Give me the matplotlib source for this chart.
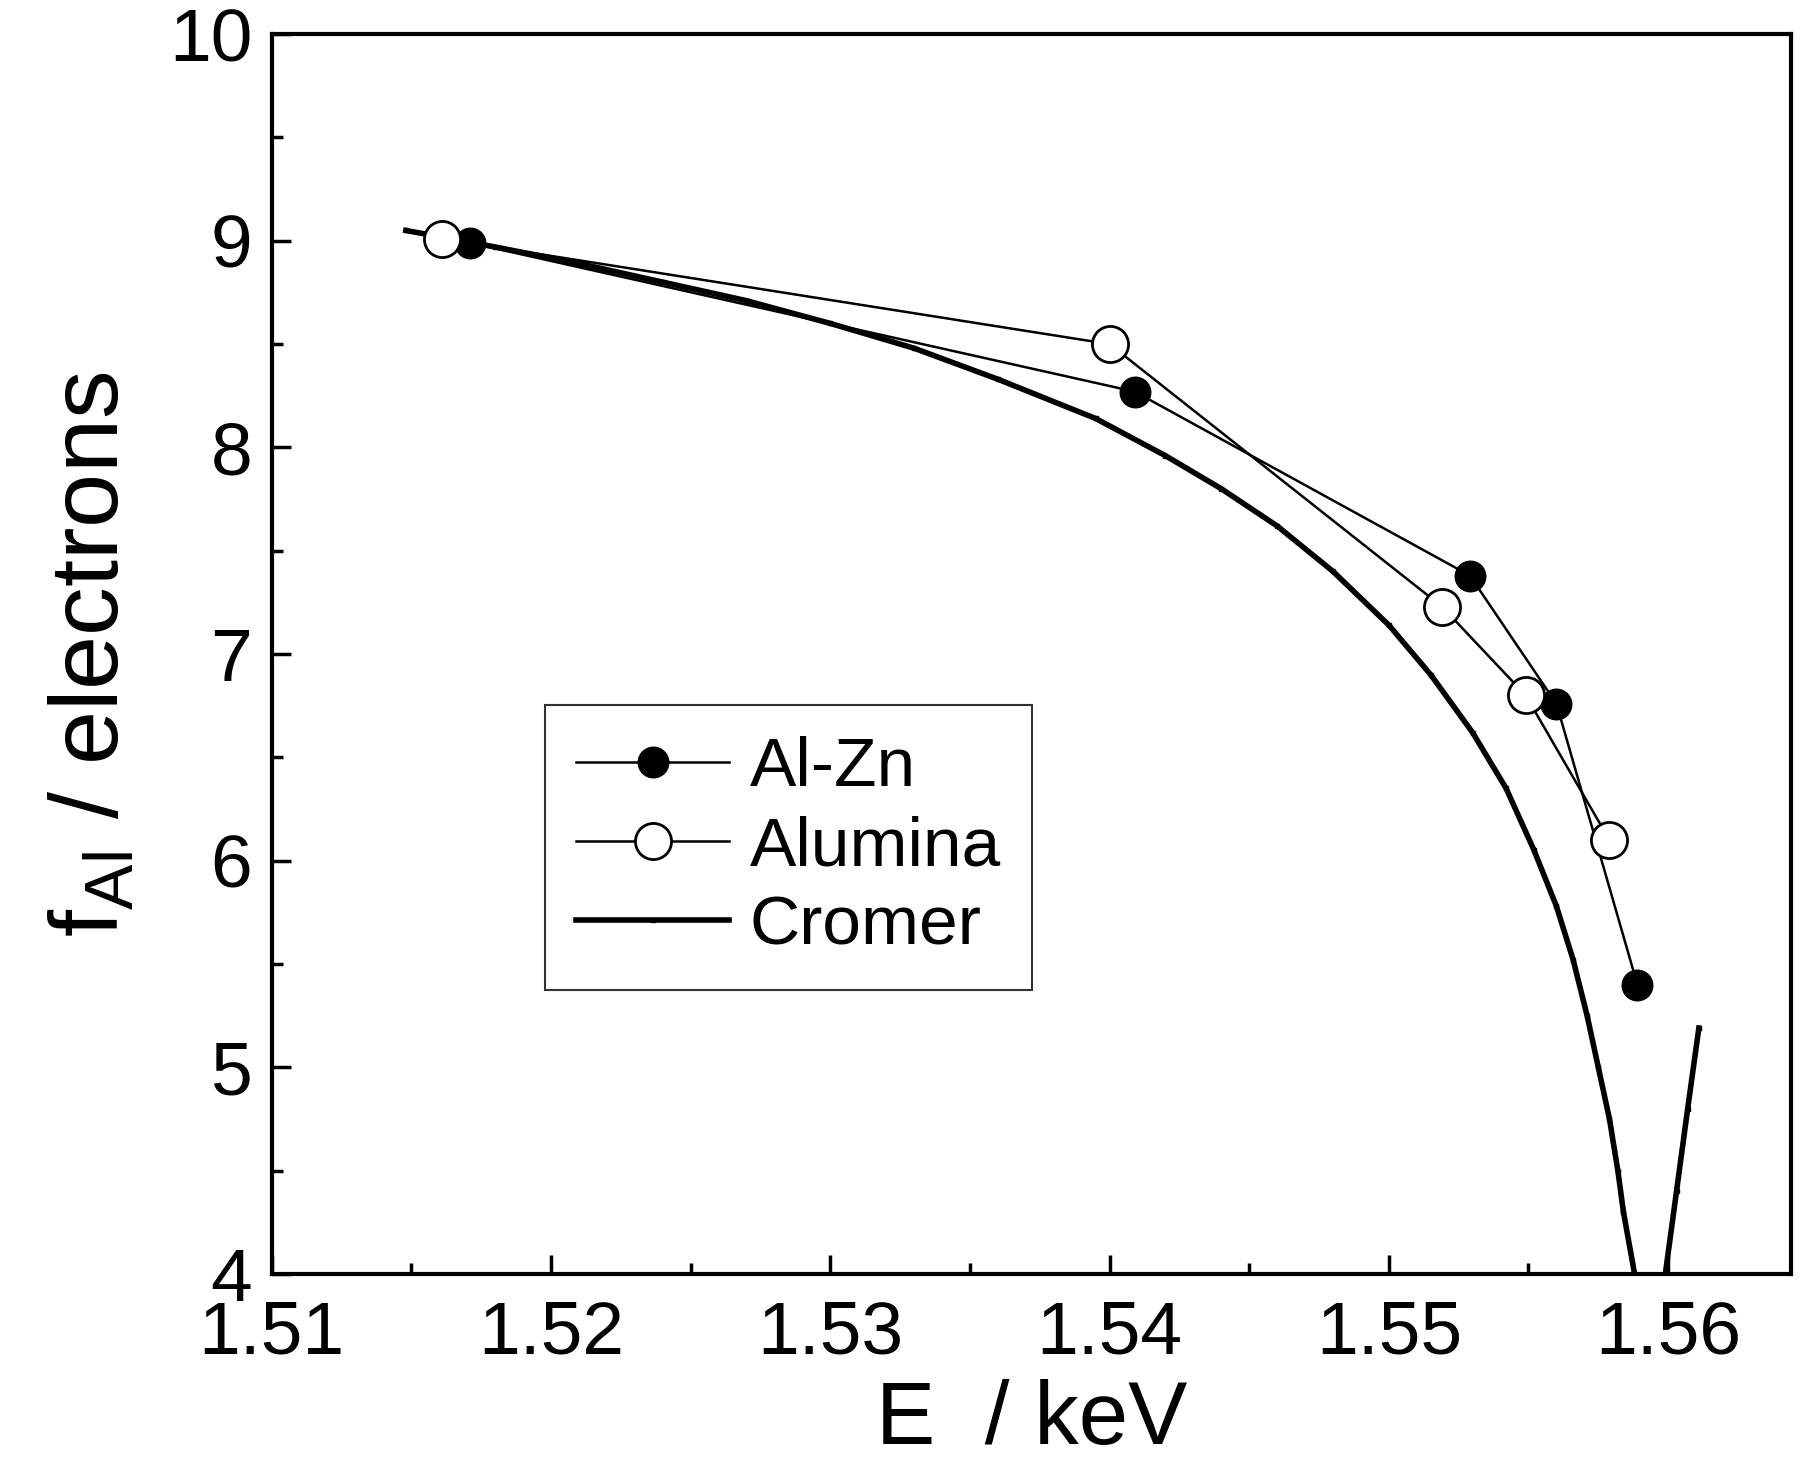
import matplotlib
matplotlib.use("Agg")
import matplotlib.pyplot as plt
from matplotlib.ticker import MultipleLocator

plt.rcParams["font.family"] = "Liberation Sans"

alzn_x = [1.5171, 1.5409, 1.5529, 1.5560, 1.5589]
alzn_y = [8.99, 8.27, 7.38, 6.76, 5.40]
alum_x = [1.5161, 1.5400, 1.5519, 1.5549, 1.5579]
alum_y = [9.01, 8.50, 7.23, 6.80, 6.10]
cromer_x = [1.5148, 1.518, 1.521, 1.524, 1.527, 1.530, 1.533, 1.536, 1.5395, 1.542,
            1.544, 1.546, 1.548, 1.550, 1.5515, 1.5530, 1.5542, 1.5552, 1.5560,
            1.5566, 1.5571, 1.5575, 1.5579, 1.5582, 1.5584, 1.5588]
cromer_y = [9.05, 8.97, 8.89, 8.80, 8.71, 8.60, 8.48, 8.33, 8.14, 7.96,
            7.80, 7.62, 7.40, 7.14, 6.90, 6.62, 6.35, 6.05, 5.78,
            5.52, 5.25, 5.00, 4.75, 4.50, 4.30, 4.00]
cromer2_x = [1.5599, 1.5603, 1.5607, 1.5611]
cromer2_y = [4.00, 4.40, 4.80, 5.19]

fig = plt.figure(figsize=(18, 14.84), dpi=100)
ax = fig.add_axes([0.151, 0.1415, 0.844, 0.8355])

ax.plot(cromer_x, cromer_y, color="black", lw=4, marker="s", ms=2.5, label="Cromer", zorder=2)
ax.plot(cromer2_x, cromer2_y, color="black", lw=4, marker="s", ms=2.5, zorder=2)
ax.plot(alzn_x, alzn_y, color="black", lw=1.8, marker="o", ms=22, mfc="black", label="Al-Zn", zorder=3)
ax.plot(alum_x, alum_y, color="black", lw=1.8, marker="o", ms=26, mfc="white", mew=2, label="Alumina", zorder=4)

ax.set_xlim(1.51, 1.5644)
ax.set_ylim(4, 10)
ax.xaxis.set_minor_locator(MultipleLocator(0.005))
ax.yaxis.set_major_locator(MultipleLocator(1))
ax.yaxis.set_minor_locator(MultipleLocator(0.5))
ax.set_xticks([1.51, 1.52, 1.53, 1.54, 1.55, 1.56])
ax.set_xticklabels(["1.51", "1.52", "1.53", "1.54", "1.55", "1.56"])
ax.tick_params(which="both", direction="in", width=2.5, labelsize=54, top=False, right=False)
ax.tick_params(axis="x", pad=18)
ax.tick_params(axis="y", pad=14)
ax.tick_params(which="major", length=14)
ax.tick_params(which="minor", length=8)
for s in ax.spines.values():
    s.set_linewidth(3)

ax.set_xlabel("E  / keV", fontsize=64, labelpad=8)
ax.set_ylabel(r"f$_{\mathregular{Al}}$ / electrons", fontsize=70, labelpad=22)

h, l = ax.get_legend_handles_labels()
order = [1, 2, 0]
leg = ax.legend([h[i] for i in order], [l[i] for i in order], loc="upper left",
                bbox_to_anchor=(0.157, 0.487), fontsize=50, fancybox=False,
                edgecolor="black", handlelength=2.2, handletextpad=0.3, borderpad=0.45,
                labelspacing=0.22, markerscale=1.0)
leg.get_frame().set_linewidth(1.5)

fig.savefig("out.png", dpi=100)
